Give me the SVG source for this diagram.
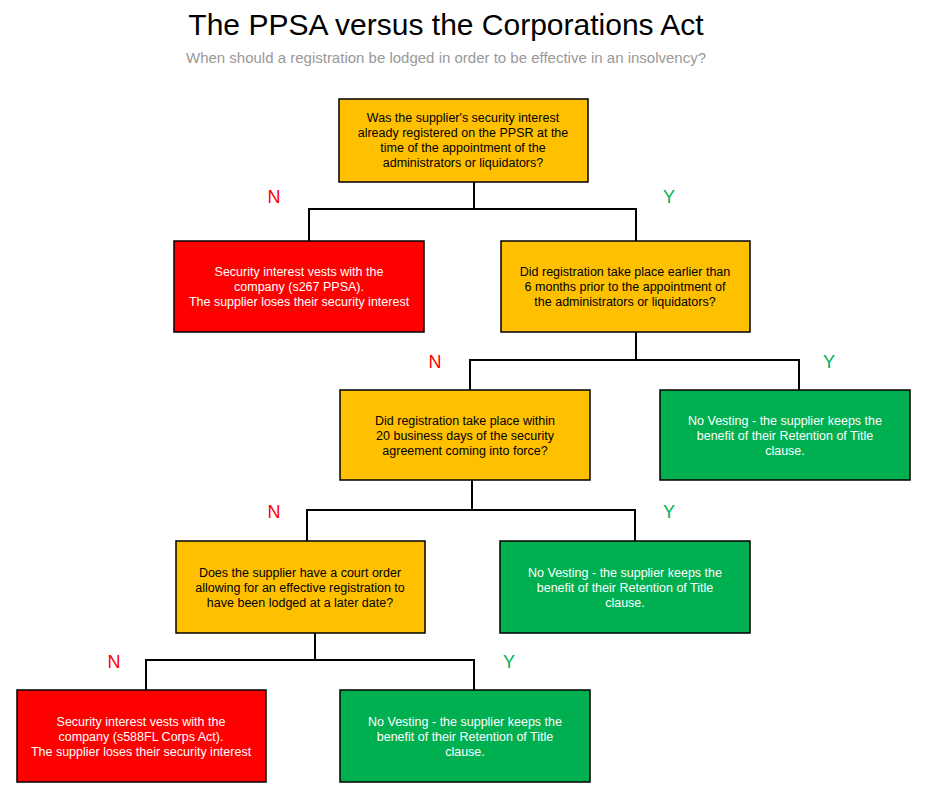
<svg xmlns="http://www.w3.org/2000/svg" width="929" height="798" viewBox="0 0 929 798">
<style>
text{font-family:"Liberation Sans",Arial,sans-serif;}
.box rect{stroke:#000;stroke-width:1.5;}
.o rect{fill:#FFC000;}
.r rect{fill:#FF0000;}
.g rect{fill:#00B050;}
.box text{font-size:12.5px;text-anchor:middle;}
.o text{fill:#000;}
.r text,.g text{fill:#fff;}
.n{fill:#FF0000;font-size:18px;text-anchor:middle;}
.y{fill:#00B050;font-size:18px;text-anchor:middle;}
#connectors path{fill:none;stroke:#000;stroke-width:2;}
</style>
<rect width="929" height="798" fill="#fff"/>
<text x="446" y="35" font-size="30" text-anchor="middle" fill="#000">The PPSA versus the Corporations Act</text>
<text x="446" y="63" font-size="15" text-anchor="middle" fill="#999">When should a registration be lodged in order to be effective in an insolvency?</text>
<g id="connectors">
<path d="M474 182V209M309 241V209H636V241"/>
<path d="M636 332V360M470 390V360H799V390"/>
<path d="M472 480V510M307 541V510H635V541"/>
<path d="M315 633V660M146 690V660H474V690"/>
</g>
<g id="labels">
<text class="n" x="274" y="203">N</text><text class="y" x="669" y="203">Y</text>
<text class="n" x="435" y="368">N</text><text class="y" x="829" y="368">Y</text>
<text class="n" x="274" y="518">N</text><text class="y" x="669" y="518">Y</text>
<text class="n" x="114" y="668">N</text><text class="y" x="509" y="668">Y</text>
</g>
<g id="n1" class="box o"><rect x="339" y="99" width="249" height="83"/>
<text x="463" y="122">Was the supplier's security interest</text><text x="463" y="137">already registered on  the PPSR at the</text><text x="463" y="152">time of the appointment of the</text><text x="463" y="167">administrators or liquidators?</text></g>
<g id="n2" class="box r"><rect x="174" y="241" width="250" height="91"/>
<text x="299" y="276">Security interest vests with the</text><text x="299" y="291">company (s267 PPSA).</text><text x="299" y="306">The supplier loses their security interest</text></g>
<g id="n3" class="box o"><rect x="501" y="241" width="249" height="91"/>
<text x="625" y="276">Did registration take place earlier than</text><text x="625" y="291">6 months prior to the appointment of</text><text x="625" y="306">the administrators or liquidators?</text></g>
<g id="n4" class="box o"><rect x="340" y="390" width="250" height="90"/>
<text x="465" y="425">Did registration take place within</text><text x="465" y="440">20 business days of the security</text><text x="465" y="455">agreement coming into force?</text></g>
<g id="n5" class="box g"><rect x="660" y="390" width="250" height="90"/>
<text x="785" y="425">No Vesting - the supplier keeps the</text><text x="785" y="440">benefit of their Retention of Title</text><text x="785" y="455">clause.</text></g>
<g id="n6" class="box o"><rect x="176" y="541" width="249" height="92"/>
<text x="300" y="577">Does the supplier have a court order</text><text x="300" y="592">allowing for an effective registration to</text><text x="300" y="607">have been lodged at a later date?</text></g>
<g id="n7" class="box g"><rect x="500" y="541" width="250" height="92"/>
<text x="625" y="577">No Vesting - the supplier keeps the</text><text x="625" y="592">benefit of their Retention of Title</text><text x="625" y="607">clause.</text></g>
<g id="n8" class="box r"><rect x="17" y="690" width="249" height="92"/>
<text x="141" y="726">Security interest vests with the</text><text x="141" y="741">company (s588FL Corps Act).</text><text x="141" y="756">The supplier loses their security interest</text></g>
<g id="n9" class="box g"><rect x="340" y="690" width="250" height="92"/>
<text x="465" y="726">No Vesting - the supplier keeps the</text><text x="465" y="741">benefit of their Retention of Title</text><text x="465" y="756">clause.</text></g>
</svg>
